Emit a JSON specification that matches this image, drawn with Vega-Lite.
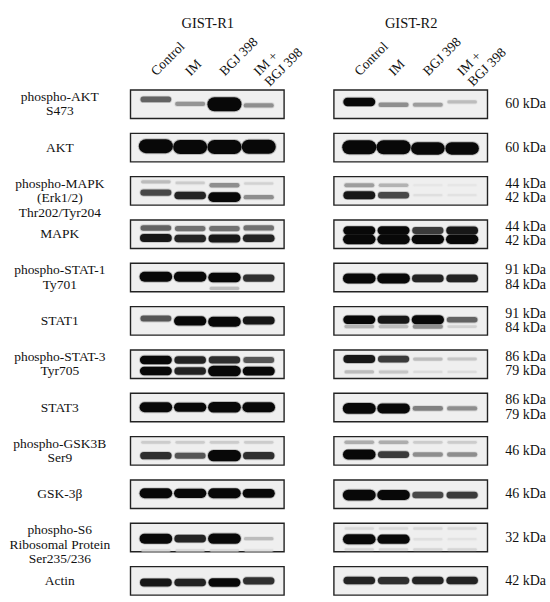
{
  "$schema": "https://vega.github.io/schema/vega-lite/v6.json",
  "background": "white",
  "padding": {"left": 8.5, "top": 16, "right": 0, "bottom": 0},
  "bounds": "flush",
  "spacing": 49.4,
  "config": {
    "view": {"stroke": null},
    "font": "Liberation Serif",
    "text": {"font": "Liberation Serif", "color": "#111"},
    "axis": {"labelFont": "Liberation Serif", "titleFont": "Liberation Serif"}
  },
  "datasets": {
    "rows": [
      {"protein": "pAKT", "label": "phospho-AKT\nS473", "kda": "60 kDa"},
      {"protein": "AKT", "label": "AKT", "kda": "60 kDa"},
      {"protein": "pMAPK", "label": "phospho-MAPK\n(Erk1/2)\nThr202/Tyr204", "kda": "44 kDa\n42 kDa"},
      {"protein": "MAPK", "label": "MAPK", "kda": "44 kDa\n42 kDa"},
      {"protein": "pSTAT1", "label": "phospho-STAT-1\nTy701", "kda": "91 kDa\n84 kDa"},
      {"protein": "STAT1", "label": "STAT1", "kda": "91 kDa\n84 kDa"},
      {"protein": "pSTAT3", "label": "phospho-STAT-3\nTyr705", "kda": "86 kDa\n79 kDa"},
      {"protein": "STAT3", "label": "STAT3", "kda": "86 kDa\n79 kDa"},
      {"protein": "pGSK3B", "label": "phospho-GSK3B\nSer9", "kda": "46 kDa"},
      {"protein": "GSK3B", "label": "GSK-3β", "kda": "46 kDa"},
      {"protein": "pS6", "label": "phospho-S6\nRibosomal Protein\nSer235/236", "kda": "32 kDa"},
      {"protein": "Actin", "label": "Actin", "kda": "42 kDa"}
    ],
    "bands": [
      {"blot": "GIST-R1", "protein": "pAKT", "lane": "Control", "migration": 0.33, "signal": 0.45},
      {"blot": "GIST-R1", "protein": "pAKT", "lane": "IM", "migration": 0.49, "signal": 0.28},
      {"blot": "GIST-R1", "protein": "pAKT", "lane": "BGJ 398", "migration": 0.5, "signal": 1.5},
      {"blot": "GIST-R1", "protein": "pAKT", "lane": "IM + BGJ 398", "migration": 0.54, "signal": 0.3},
      {"blot": "GIST-R1", "protein": "AKT", "lane": "Control", "migration": 0.45, "signal": 1.5},
      {"blot": "GIST-R1", "protein": "AKT", "lane": "IM", "migration": 0.48, "signal": 1.5},
      {"blot": "GIST-R1", "protein": "AKT", "lane": "BGJ 398", "migration": 0.48, "signal": 1.5},
      {"blot": "GIST-R1", "protein": "AKT", "lane": "IM + BGJ 398", "migration": 0.47, "signal": 1.5},
      {"blot": "GIST-R1", "protein": "pMAPK", "lane": "Control", "migration": 0.18, "signal": 0.15},
      {"blot": "GIST-R1", "protein": "pMAPK", "lane": "IM", "migration": 0.22, "signal": 0.1},
      {"blot": "GIST-R1", "protein": "pMAPK", "lane": "BGJ 398", "migration": 0.3, "signal": 0.3},
      {"blot": "GIST-R1", "protein": "pMAPK", "lane": "IM + BGJ 398", "migration": 0.24, "signal": 0.08},
      {"blot": "GIST-R1", "protein": "pMAPK", "lane": "Control", "migration": 0.56, "signal": 0.55},
      {"blot": "GIST-R1", "protein": "pMAPK", "lane": "IM", "migration": 0.66, "signal": 0.7},
      {"blot": "GIST-R1", "protein": "pMAPK", "lane": "BGJ 398", "migration": 0.72, "signal": 0.95},
      {"blot": "GIST-R1", "protein": "pMAPK", "lane": "IM + BGJ 398", "migration": 0.72, "signal": 0.3},
      {"blot": "GIST-R1", "protein": "MAPK", "lane": "Control", "migration": 0.28, "signal": 0.45},
      {"blot": "GIST-R1", "protein": "MAPK", "lane": "IM", "migration": 0.3, "signal": 0.4},
      {"blot": "GIST-R1", "protein": "MAPK", "lane": "BGJ 398", "migration": 0.3, "signal": 0.4},
      {"blot": "GIST-R1", "protein": "MAPK", "lane": "IM + BGJ 398", "migration": 0.28, "signal": 0.4},
      {"blot": "GIST-R1", "protein": "MAPK", "lane": "Control", "migration": 0.63, "signal": 0.75},
      {"blot": "GIST-R1", "protein": "MAPK", "lane": "IM", "migration": 0.65, "signal": 0.7},
      {"blot": "GIST-R1", "protein": "MAPK", "lane": "BGJ 398", "migration": 0.65, "signal": 0.75},
      {"blot": "GIST-R1", "protein": "MAPK", "lane": "IM + BGJ 398", "migration": 0.64, "signal": 0.7},
      {"blot": "GIST-R1", "protein": "pSTAT1", "lane": "Control", "migration": 0.47, "signal": 1.0},
      {"blot": "GIST-R1", "protein": "pSTAT1", "lane": "IM", "migration": 0.47, "signal": 1.0},
      {"blot": "GIST-R1", "protein": "pSTAT1", "lane": "BGJ 398", "migration": 0.5, "signal": 0.95},
      {"blot": "GIST-R1", "protein": "pSTAT1", "lane": "IM + BGJ 398", "migration": 0.52, "signal": 0.65},
      {"blot": "GIST-R1", "protein": "pSTAT1", "lane": "BGJ 398", "migration": 0.88, "signal": 0.15},
      {"blot": "GIST-R1", "protein": "STAT1", "lane": "Control", "migration": 0.42, "signal": 0.5},
      {"blot": "GIST-R1", "protein": "STAT1", "lane": "IM", "migration": 0.5, "signal": 0.9},
      {"blot": "GIST-R1", "protein": "STAT1", "lane": "BGJ 398", "migration": 0.53, "signal": 1.0},
      {"blot": "GIST-R1", "protein": "STAT1", "lane": "IM + BGJ 398", "migration": 0.49, "signal": 0.75},
      {"blot": "GIST-R1", "protein": "pSTAT3", "lane": "Control", "migration": 0.35, "signal": 0.8},
      {"blot": "GIST-R1", "protein": "pSTAT3", "lane": "IM", "migration": 0.35, "signal": 0.7},
      {"blot": "GIST-R1", "protein": "pSTAT3", "lane": "BGJ 398", "migration": 0.35, "signal": 0.65},
      {"blot": "GIST-R1", "protein": "pSTAT3", "lane": "IM + BGJ 398", "migration": 0.35, "signal": 0.5},
      {"blot": "GIST-R1", "protein": "pSTAT3", "lane": "Control", "migration": 0.74, "signal": 0.8},
      {"blot": "GIST-R1", "protein": "pSTAT3", "lane": "IM", "migration": 0.74, "signal": 0.7},
      {"blot": "GIST-R1", "protein": "pSTAT3", "lane": "BGJ 398", "migration": 0.74, "signal": 1.05},
      {"blot": "GIST-R1", "protein": "pSTAT3", "lane": "IM + BGJ 398", "migration": 0.74, "signal": 0.85},
      {"blot": "GIST-R1", "protein": "STAT3", "lane": "Control", "migration": 0.49, "signal": 1.0},
      {"blot": "GIST-R1", "protein": "STAT3", "lane": "IM", "migration": 0.49, "signal": 0.9},
      {"blot": "GIST-R1", "protein": "STAT3", "lane": "BGJ 398", "migration": 0.49, "signal": 1.05},
      {"blot": "GIST-R1", "protein": "STAT3", "lane": "IM + BGJ 398", "migration": 0.49, "signal": 1.0},
      {"blot": "GIST-R1", "protein": "pGSK3B", "lane": "Control", "migration": 0.2, "signal": 0.1},
      {"blot": "GIST-R1", "protein": "pGSK3B", "lane": "IM", "migration": 0.2, "signal": 0.1},
      {"blot": "GIST-R1", "protein": "pGSK3B", "lane": "BGJ 398", "migration": 0.2, "signal": 0.1},
      {"blot": "GIST-R1", "protein": "pGSK3B", "lane": "IM + BGJ 398", "migration": 0.2, "signal": 0.1},
      {"blot": "GIST-R1", "protein": "pGSK3B", "lane": "Control", "migration": 0.67, "signal": 0.65},
      {"blot": "GIST-R1", "protein": "pGSK3B", "lane": "IM", "migration": 0.67, "signal": 0.5},
      {"blot": "GIST-R1", "protein": "pGSK3B", "lane": "BGJ 398", "migration": 0.67, "signal": 1.15},
      {"blot": "GIST-R1", "protein": "pGSK3B", "lane": "IM + BGJ 398", "migration": 0.67, "signal": 0.65},
      {"blot": "GIST-R1", "protein": "GSK3B", "lane": "Control", "migration": 0.47, "signal": 1.0},
      {"blot": "GIST-R1", "protein": "GSK3B", "lane": "IM", "migration": 0.47, "signal": 0.9},
      {"blot": "GIST-R1", "protein": "GSK3B", "lane": "BGJ 398", "migration": 0.47, "signal": 1.0},
      {"blot": "GIST-R1", "protein": "GSK3B", "lane": "IM + BGJ 398", "migration": 0.47, "signal": 0.85},
      {"blot": "GIST-R1", "protein": "pS6", "lane": "Control", "migration": 0.54, "signal": 1.0},
      {"blot": "GIST-R1", "protein": "pS6", "lane": "IM", "migration": 0.54, "signal": 0.7},
      {"blot": "GIST-R1", "protein": "pS6", "lane": "BGJ 398", "migration": 0.54, "signal": 1.05},
      {"blot": "GIST-R1", "protein": "pS6", "lane": "IM + BGJ 398", "migration": 0.54, "signal": 0.15},
      {"blot": "GIST-R1", "protein": "pS6", "lane": "Control", "migration": 0.95, "signal": 0.06},
      {"blot": "GIST-R1", "protein": "pS6", "lane": "IM", "migration": 0.95, "signal": 0.06},
      {"blot": "GIST-R1", "protein": "pS6", "lane": "BGJ 398", "migration": 0.95, "signal": 0.06},
      {"blot": "GIST-R1", "protein": "pS6", "lane": "IM + BGJ 398", "migration": 0.95, "signal": 0.04},
      {"blot": "GIST-R1", "protein": "Actin", "lane": "Control", "migration": 0.56, "signal": 0.75},
      {"blot": "GIST-R1", "protein": "Actin", "lane": "IM", "migration": 0.56, "signal": 0.7},
      {"blot": "GIST-R1", "protein": "Actin", "lane": "BGJ 398", "migration": 0.56, "signal": 0.8},
      {"blot": "GIST-R1", "protein": "Actin", "lane": "IM + BGJ 398", "migration": 0.5, "signal": 0.65},
      {"blot": "GIST-R2", "protein": "pAKT", "lane": "Control", "migration": 0.42, "signal": 0.8},
      {"blot": "GIST-R2", "protein": "pAKT", "lane": "IM", "migration": 0.52, "signal": 0.3},
      {"blot": "GIST-R2", "protein": "pAKT", "lane": "BGJ 398", "migration": 0.52, "signal": 0.25},
      {"blot": "GIST-R2", "protein": "pAKT", "lane": "IM + BGJ 398", "migration": 0.42, "signal": 0.15},
      {"blot": "GIST-R2", "protein": "AKT", "lane": "Control", "migration": 0.49, "signal": 1.5},
      {"blot": "GIST-R2", "protein": "AKT", "lane": "IM", "migration": 0.49, "signal": 1.5},
      {"blot": "GIST-R2", "protein": "AKT", "lane": "BGJ 398", "migration": 0.53, "signal": 1.3},
      {"blot": "GIST-R2", "protein": "AKT", "lane": "IM + BGJ 398", "migration": 0.53, "signal": 1.3},
      {"blot": "GIST-R2", "protein": "pMAPK", "lane": "Control", "migration": 0.3, "signal": 0.25},
      {"blot": "GIST-R2", "protein": "pMAPK", "lane": "IM", "migration": 0.3, "signal": 0.18},
      {"blot": "GIST-R2", "protein": "pMAPK", "lane": "BGJ 398", "migration": 0.3, "signal": 0.02},
      {"blot": "GIST-R2", "protein": "pMAPK", "lane": "IM + BGJ 398", "migration": 0.3, "signal": 0.02},
      {"blot": "GIST-R2", "protein": "pMAPK", "lane": "Control", "migration": 0.65, "signal": 0.75},
      {"blot": "GIST-R2", "protein": "pMAPK", "lane": "IM", "migration": 0.65, "signal": 0.55},
      {"blot": "GIST-R2", "protein": "pMAPK", "lane": "BGJ 398", "migration": 0.65, "signal": 0.04},
      {"blot": "GIST-R2", "protein": "pMAPK", "lane": "IM + BGJ 398", "migration": 0.65, "signal": 0.03},
      {"blot": "GIST-R2", "protein": "MAPK", "lane": "Control", "migration": 0.37, "signal": 0.8},
      {"blot": "GIST-R2", "protein": "MAPK", "lane": "IM", "migration": 0.37, "signal": 0.8},
      {"blot": "GIST-R2", "protein": "MAPK", "lane": "BGJ 398", "migration": 0.37, "signal": 0.6},
      {"blot": "GIST-R2", "protein": "MAPK", "lane": "IM + BGJ 398", "migration": 0.37, "signal": 0.75},
      {"blot": "GIST-R2", "protein": "MAPK", "lane": "Control", "migration": 0.68, "signal": 0.95},
      {"blot": "GIST-R2", "protein": "MAPK", "lane": "IM", "migration": 0.68, "signal": 0.95},
      {"blot": "GIST-R2", "protein": "MAPK", "lane": "BGJ 398", "migration": 0.68, "signal": 0.9},
      {"blot": "GIST-R2", "protein": "MAPK", "lane": "IM + BGJ 398", "migration": 0.68, "signal": 0.9},
      {"blot": "GIST-R2", "protein": "pSTAT1", "lane": "Control", "migration": 0.53, "signal": 1.0},
      {"blot": "GIST-R2", "protein": "pSTAT1", "lane": "IM", "migration": 0.53, "signal": 1.0},
      {"blot": "GIST-R2", "protein": "pSTAT1", "lane": "BGJ 398", "migration": 0.53, "signal": 0.7},
      {"blot": "GIST-R2", "protein": "pSTAT1", "lane": "IM + BGJ 398", "migration": 0.53, "signal": 0.7},
      {"blot": "GIST-R2", "protein": "STAT1", "lane": "Control", "migration": 0.46, "signal": 0.8},
      {"blot": "GIST-R2", "protein": "STAT1", "lane": "IM", "migration": 0.46, "signal": 0.75},
      {"blot": "GIST-R2", "protein": "STAT1", "lane": "BGJ 398", "migration": 0.46, "signal": 0.9},
      {"blot": "GIST-R2", "protein": "STAT1", "lane": "IM + BGJ 398", "migration": 0.46, "signal": 0.45},
      {"blot": "GIST-R2", "protein": "STAT1", "lane": "Control", "migration": 0.7, "signal": 0.18},
      {"blot": "GIST-R2", "protein": "STAT1", "lane": "IM", "migration": 0.7, "signal": 0.15},
      {"blot": "GIST-R2", "protein": "STAT1", "lane": "BGJ 398", "migration": 0.7, "signal": 0.3},
      {"blot": "GIST-R2", "protein": "STAT1", "lane": "IM + BGJ 398", "migration": 0.7, "signal": 0.08},
      {"blot": "GIST-R2", "protein": "pSTAT3", "lane": "Control", "migration": 0.32, "signal": 0.75},
      {"blot": "GIST-R2", "protein": "pSTAT3", "lane": "IM", "migration": 0.32, "signal": 0.6},
      {"blot": "GIST-R2", "protein": "pSTAT3", "lane": "BGJ 398", "migration": 0.32, "signal": 0.15},
      {"blot": "GIST-R2", "protein": "pSTAT3", "lane": "IM + BGJ 398", "migration": 0.32, "signal": 0.12},
      {"blot": "GIST-R2", "protein": "pSTAT3", "lane": "Control", "migration": 0.77, "signal": 0.15},
      {"blot": "GIST-R2", "protein": "pSTAT3", "lane": "IM", "migration": 0.77, "signal": 0.12},
      {"blot": "GIST-R2", "protein": "pSTAT3", "lane": "BGJ 398", "migration": 0.77, "signal": 0.05},
      {"blot": "GIST-R2", "protein": "pSTAT3", "lane": "IM + BGJ 398", "migration": 0.77, "signal": 0.05},
      {"blot": "GIST-R2", "protein": "STAT3", "lane": "Control", "migration": 0.53, "signal": 1.1},
      {"blot": "GIST-R2", "protein": "STAT3", "lane": "IM", "migration": 0.53, "signal": 1.0},
      {"blot": "GIST-R2", "protein": "STAT3", "lane": "BGJ 398", "migration": 0.53, "signal": 0.35},
      {"blot": "GIST-R2", "protein": "STAT3", "lane": "IM + BGJ 398", "migration": 0.53, "signal": 0.3},
      {"blot": "GIST-R2", "protein": "pGSK3B", "lane": "Control", "migration": 0.2, "signal": 0.2},
      {"blot": "GIST-R2", "protein": "pGSK3B", "lane": "IM", "migration": 0.2, "signal": 0.2},
      {"blot": "GIST-R2", "protein": "pGSK3B", "lane": "BGJ 398", "migration": 0.2, "signal": 0.1},
      {"blot": "GIST-R2", "protein": "pGSK3B", "lane": "IM + BGJ 398", "migration": 0.2, "signal": 0.1},
      {"blot": "GIST-R2", "protein": "pGSK3B", "lane": "Control", "migration": 0.63, "signal": 1.0},
      {"blot": "GIST-R2", "protein": "pGSK3B", "lane": "IM", "migration": 0.63, "signal": 0.6},
      {"blot": "GIST-R2", "protein": "pGSK3B", "lane": "BGJ 398", "migration": 0.63, "signal": 0.3},
      {"blot": "GIST-R2", "protein": "pGSK3B", "lane": "IM + BGJ 398", "migration": 0.63, "signal": 0.3},
      {"blot": "GIST-R2", "protein": "GSK3B", "lane": "Control", "migration": 0.53, "signal": 1.1},
      {"blot": "GIST-R2", "protein": "GSK3B", "lane": "IM", "migration": 0.53, "signal": 1.0},
      {"blot": "GIST-R2", "protein": "GSK3B", "lane": "BGJ 398", "migration": 0.53, "signal": 0.55},
      {"blot": "GIST-R2", "protein": "GSK3B", "lane": "IM + BGJ 398", "migration": 0.53, "signal": 0.6},
      {"blot": "GIST-R2", "protein": "pS6", "lane": "Control", "migration": 0.18, "signal": 0.06},
      {"blot": "GIST-R2", "protein": "pS6", "lane": "IM", "migration": 0.18, "signal": 0.06},
      {"blot": "GIST-R2", "protein": "pS6", "lane": "BGJ 398", "migration": 0.18, "signal": 0.06},
      {"blot": "GIST-R2", "protein": "pS6", "lane": "IM + BGJ 398", "migration": 0.18, "signal": 0.06},
      {"blot": "GIST-R2", "protein": "pS6", "lane": "Control", "migration": 0.56, "signal": 1.0},
      {"blot": "GIST-R2", "protein": "pS6", "lane": "IM", "migration": 0.56, "signal": 0.9},
      {"blot": "GIST-R2", "protein": "pS6", "lane": "BGJ 398", "migration": 0.56, "signal": 0.04},
      {"blot": "GIST-R2", "protein": "pS6", "lane": "IM + BGJ 398", "migration": 0.56, "signal": 0.03},
      {"blot": "GIST-R2", "protein": "pS6", "lane": "Control", "migration": 0.92, "signal": 0.07},
      {"blot": "GIST-R2", "protein": "pS6", "lane": "IM", "migration": 0.92, "signal": 0.07},
      {"blot": "GIST-R2", "protein": "pS6", "lane": "BGJ 398", "migration": 0.92, "signal": 0.07},
      {"blot": "GIST-R2", "protein": "pS6", "lane": "IM + BGJ 398", "migration": 0.92, "signal": 0.07},
      {"blot": "GIST-R2", "protein": "Actin", "lane": "Control", "migration": 0.49, "signal": 0.7},
      {"blot": "GIST-R2", "protein": "Actin", "lane": "IM", "migration": 0.49, "signal": 0.65},
      {"blot": "GIST-R2", "protein": "Actin", "lane": "BGJ 398", "migration": 0.49, "signal": 0.7},
      {"blot": "GIST-R2", "protein": "Actin", "lane": "IM + BGJ 398", "migration": 0.49, "signal": 0.7}
    ]
  },
  "hconcat": [
    {
      "width": 153.6,
      "height": 505.1,
      "resolve": {"scale": {"strokeWidth": "independent"}},
      "layer": [
        {
          "data": {"name": "rows"},
          "mark": {"type": "point", "shape": "M-1,-0.18555L1,-0.18555L1,0.18555L-1,0.18555Z", "size": 23593, "filled": true, "fill": "#efefef", "stroke": "#222222", "strokeWidth": 1.4, "opacity": 1},
          "encoding": {
            "y": {"field": "protein", "type": "nominal", "axis": null,
                  "scale": {"type": "band", "domain": ["pAKT","AKT","pMAPK","MAPK","pSTAT1","STAT1","pSTAT3","STAT3","pGSK3B","GSK3B","pS6","Actin"], "paddingInner": 0.342, "paddingOuter": 0}}
          }
        },
        {
          "data": {"name": "bands"},
          "transform": [{"filter": "datum.blot == 'GIST-R1'"}],
          "mark": {"type": "point", "shape": "M-1,0L1,0", "filled": false, "strokeCap": "round", "opacity": 0.22},
          "encoding": {
            "x": {"field": "lane", "type": "nominal",
                  "scale": {"type": "point", "domain": ["Control","IM","BGJ 398","IM + BGJ 398"], "padding": 0.74},
                  "axis": {"orient": "top", "title": "GIST-R1", "titleFontSize": 14.5, "titleFontWeight": "normal", "titleColor": "#111111", "titleY": -62, "titleBaseline": "alphabetic",
                           "labelAngle": -45, "labelAlign": "left", "labelBaseline": "bottom", "labelPadding": 12, "labelOffset": 2, "labelFontSize": 13.5, "labelColor": "#111111", "labelLineHeight": 15,
                           "labelExpr": "split(replace(datum.label, '+ ', '+|'), '|')", "domain": false, "ticks": false, "tickSize": 0, "labelOverlap": false, "labelBound": false}},
            "y": {"field": "protein", "type": "nominal", "axis": null,
                  "scale": {"type": "band", "domain": ["pAKT","AKT","pMAPK","MAPK","pSTAT1","STAT1","pSTAT3","STAT3","pGSK3B","GSK3B","pS6","Actin"], "paddingInner": 0.342, "paddingOuter": 0}},
            "yOffset": {"field": "migration", "type": "quantitative", "scale": {"domain": [0, 1], "range": [0, 28.5]}},
            "stroke": {"field": "signal", "type": "quantitative", "scale": {"domain": [0, 0.8], "range": ["#ececec", "#080808"], "clamp": true}, "legend": null},
            "strokeWidth": {"field": "signal", "type": "quantitative", "scale": {"domain": [0, 1.5], "range": [3.6, 16]}, "legend": null},
            "size": {"field": "signal", "type": "quantitative", "scale": {"domain": [0, 1.5], "range": [729, 400], "zero": false}, "legend": null}
          }
        },
        {
          "data": {"name": "bands"},
          "transform": [{"filter": "datum.blot == 'GIST-R1'"}],
          "mark": {"type": "point", "shape": "M-1,0L1,0", "filled": false, "strokeCap": "round", "opacity": 1},
          "encoding": {
            "x": {"field": "lane", "type": "nominal",
                  "scale": {"type": "point", "domain": ["Control","IM","BGJ 398","IM + BGJ 398"], "padding": 0.74}},
            "y": {"field": "protein", "type": "nominal", "axis": null,
                  "scale": {"type": "band", "domain": ["pAKT","AKT","pMAPK","MAPK","pSTAT1","STAT1","pSTAT3","STAT3","pGSK3B","GSK3B","pS6","Actin"], "paddingInner": 0.342, "paddingOuter": 0}},
            "yOffset": {"field": "migration", "type": "quantitative", "scale": {"domain": [0, 1], "range": [0, 28.5]}},
            "stroke": {"field": "signal", "type": "quantitative", "scale": {"domain": [0, 0.8], "range": ["#ececec", "#080808"], "clamp": true}, "legend": null},
            "strokeWidth": {"field": "signal", "type": "quantitative", "scale": {"domain": [0, 1.5], "range": [2, 14]}, "legend": null},
            "size": {"field": "signal", "type": "quantitative", "scale": {"domain": [0, 1.5], "range": [729, 400], "zero": false}, "legend": null}
          }
        },
        {
          "data": {"name": "rows"},
          "transform": [{"filter": "!test(/\\n/, datum.label)"}],
          "mark": {"type": "text", "align": "center", "baseline": "middle", "lineBreak": "\n", "fontSize": 13.5, "lineHeight": 14.5, "dx": -70.7, "color": "#111111"},
          "encoding": {
            "x": {"value": 0},
            "y": {"field": "protein", "type": "nominal", "axis": null,
                  "scale": {"type": "band", "domain": ["pAKT","AKT","pMAPK","MAPK","pSTAT1","STAT1","pSTAT3","STAT3","pGSK3B","GSK3B","pS6","Actin"], "paddingInner": 0.342, "paddingOuter": 0}},
            "text": {"field": "label"}
          }
        },
        {
          "data": {"name": "rows"},
          "transform": [{"filter": "test(/\\n/, datum.label)"}],
          "mark": {"type": "text", "align": "center", "baseline": "middle", "lineBreak": "\n", "fontSize": 13.5, "lineHeight": 14.5, "dx": -70.7, "dy": -7.25, "color": "#111111"},
          "encoding": {
            "x": {"value": 0},
            "y": {"field": "protein", "type": "nominal", "axis": null,
                  "scale": {"type": "band", "domain": ["pAKT","AKT","pMAPK","MAPK","pSTAT1","STAT1","pSTAT3","STAT3","pGSK3B","GSK3B","pS6","Actin"], "paddingInner": 0.342, "paddingOuter": 0}},
            "text": {"field": "label"}
          }
        }
      ]
    },
    {
      "width": 153.6,
      "height": 505.1,
      "resolve": {"scale": {"strokeWidth": "independent"}},
      "layer": [
        {
          "data": {"name": "rows"},
          "mark": {"type": "point", "shape": "M-1,-0.18555L1,-0.18555L1,0.18555L-1,0.18555Z", "size": 23593, "filled": true, "fill": "#efefef", "stroke": "#222222", "strokeWidth": 1.4, "opacity": 1},
          "encoding": {
            "y": {"field": "protein", "type": "nominal", "axis": null,
                  "scale": {"type": "band", "domain": ["pAKT","AKT","pMAPK","MAPK","pSTAT1","STAT1","pSTAT3","STAT3","pGSK3B","GSK3B","pS6","Actin"], "paddingInner": 0.342, "paddingOuter": 0}}
          }
        },
        {
          "data": {"name": "bands"},
          "transform": [{"filter": "datum.blot == 'GIST-R2'"}],
          "mark": {"type": "point", "shape": "M-1,0L1,0", "filled": false, "strokeCap": "round", "opacity": 0.22},
          "encoding": {
            "x": {"field": "lane", "type": "nominal",
                  "scale": {"type": "point", "domain": ["Control","IM","BGJ 398","IM + BGJ 398"], "padding": 0.74},
                  "axis": {"orient": "top", "title": "GIST-R2", "titleFontSize": 14.5, "titleFontWeight": "normal", "titleColor": "#111111", "titleY": -62, "titleBaseline": "alphabetic",
                           "labelAngle": -45, "labelAlign": "left", "labelBaseline": "bottom", "labelPadding": 12, "labelOffset": 2, "labelFontSize": 13.5, "labelColor": "#111111", "labelLineHeight": 15,
                           "labelExpr": "split(replace(datum.label, '+ ', '+|'), '|')", "domain": false, "ticks": false, "tickSize": 0, "labelOverlap": false, "labelBound": false}},
            "y": {"field": "protein", "type": "nominal", "axis": null,
                  "scale": {"type": "band", "domain": ["pAKT","AKT","pMAPK","MAPK","pSTAT1","STAT1","pSTAT3","STAT3","pGSK3B","GSK3B","pS6","Actin"], "paddingInner": 0.342, "paddingOuter": 0}},
            "yOffset": {"field": "migration", "type": "quantitative", "scale": {"domain": [0, 1], "range": [0, 28.5]}},
            "stroke": {"field": "signal", "type": "quantitative", "scale": {"domain": [0, 0.8], "range": ["#ececec", "#080808"], "clamp": true}, "legend": null},
            "strokeWidth": {"field": "signal", "type": "quantitative", "scale": {"domain": [0, 1.5], "range": [3.6, 16]}, "legend": null},
            "size": {"field": "signal", "type": "quantitative", "scale": {"domain": [0, 1.5], "range": [729, 400], "zero": false}, "legend": null}
          }
        },
        {
          "data": {"name": "bands"},
          "transform": [{"filter": "datum.blot == 'GIST-R2'"}],
          "mark": {"type": "point", "shape": "M-1,0L1,0", "filled": false, "strokeCap": "round", "opacity": 1},
          "encoding": {
            "x": {"field": "lane", "type": "nominal",
                  "scale": {"type": "point", "domain": ["Control","IM","BGJ 398","IM + BGJ 398"], "padding": 0.74}},
            "y": {"field": "protein", "type": "nominal", "axis": null,
                  "scale": {"type": "band", "domain": ["pAKT","AKT","pMAPK","MAPK","pSTAT1","STAT1","pSTAT3","STAT3","pGSK3B","GSK3B","pS6","Actin"], "paddingInner": 0.342, "paddingOuter": 0}},
            "yOffset": {"field": "migration", "type": "quantitative", "scale": {"domain": [0, 1], "range": [0, 28.5]}},
            "stroke": {"field": "signal", "type": "quantitative", "scale": {"domain": [0, 0.8], "range": ["#ececec", "#080808"], "clamp": true}, "legend": null},
            "strokeWidth": {"field": "signal", "type": "quantitative", "scale": {"domain": [0, 1.5], "range": [2, 14]}, "legend": null},
            "size": {"field": "signal", "type": "quantitative", "scale": {"domain": [0, 1.5], "range": [729, 400], "zero": false}, "legend": null}
          }
        },
        {
          "data": {"name": "rows"},
          "transform": [{"filter": "!test(/\\n/, datum.kda)"}],
          "mark": {"type": "text", "align": "left", "baseline": "middle", "lineBreak": "\n", "fontSize": 14, "lineHeight": 14.5, "dx": 17.7, "color": "#111111"},
          "encoding": {
            "x": {"value": "width"},
            "y": {"field": "protein", "type": "nominal", "axis": null,
                  "scale": {"type": "band", "domain": ["pAKT","AKT","pMAPK","MAPK","pSTAT1","STAT1","pSTAT3","STAT3","pGSK3B","GSK3B","pS6","Actin"], "paddingInner": 0.342, "paddingOuter": 0}},
            "text": {"field": "kda"}
          }
        },
        {
          "data": {"name": "rows"},
          "transform": [{"filter": "test(/\\n/, datum.kda)"}],
          "mark": {"type": "text", "align": "left", "baseline": "middle", "lineBreak": "\n", "fontSize": 14, "lineHeight": 14.5, "dx": 17.7, "dy": -7.25, "color": "#111111"},
          "encoding": {
            "x": {"value": "width"},
            "y": {"field": "protein", "type": "nominal", "axis": null,
                  "scale": {"type": "band", "domain": ["pAKT","AKT","pMAPK","MAPK","pSTAT1","STAT1","pSTAT3","STAT3","pGSK3B","GSK3B","pS6","Actin"], "paddingInner": 0.342, "paddingOuter": 0}},
            "text": {"field": "kda"}
          }
        }
      ]
    }
  ]
}
